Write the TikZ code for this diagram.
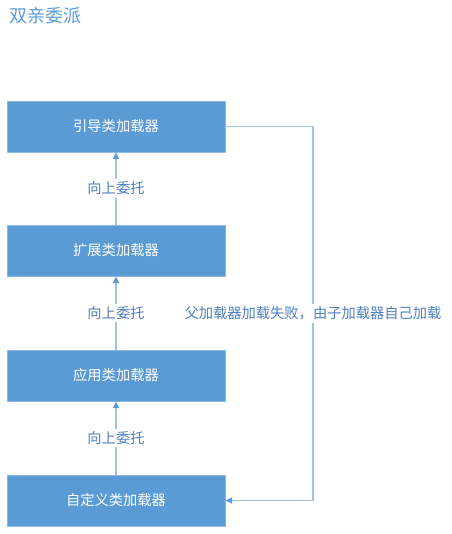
\documentclass[tikz,border=0pt]{standalone}
\usepackage{fontspec}
\setmainfont{Noto Sans CJK SC}
\usetikzlibrary{arrows.meta}

\definecolor{boxblue}{HTML}{5B9BD5}
\definecolor{boxedge}{HTML}{8DB8E2}
\definecolor{wireblue}{HTML}{9DC3E6}
\definecolor{labblue}{HTML}{4F7FBF}

\begin{document}
\begin{tikzpicture}[x=0.75pt,y=-0.75pt,font=\fontsize{10.7pt}{12pt}\selectfont,
 box/.style={draw=boxedge,line width=0.6pt,fill=boxblue,text=white,minimum width=163.5pt,minimum height=38.25pt,inner sep=0pt},
 wire/.style={draw=wireblue,line width=0.9pt,-{Triangle[width=4.5pt,length=5pt,color=boxblue]}},
 lab/.style={text=labblue,fill=white,inner sep=2pt}]
\useasboundingbox (0,0) rectangle (451,534);
\node[text=boxblue,anchor=west,font=\fontsize{13.5pt}{15pt}\selectfont] (title) at (5,16) {双亲委派};
\node[box] (boot) at (116,126.5) {引导类加载器};
\node[box] (ext) at (116,250.5) {扩展类加载器};
\node[box] (app) at (116,375.5) {应用类加载器};
\node[box] (custom) at (116,500.5) {自定义类加载器};
\coordinate (turn) at (313,126.5);
\draw[wire] (custom) -- node[lab,midway] {向上委托} (app);
\draw[wire] (app) -- node[lab,midway] {向上委托} (ext);
\draw[wire] (ext) -- node[lab,midway] {向上委托} (boot);
\draw[wire] (boot.east) -- (turn) |- node[lab,pos=0.25] {父加载器加载失败，由子加载器自己加载} (custom.east);
\end{tikzpicture}
\end{document}
